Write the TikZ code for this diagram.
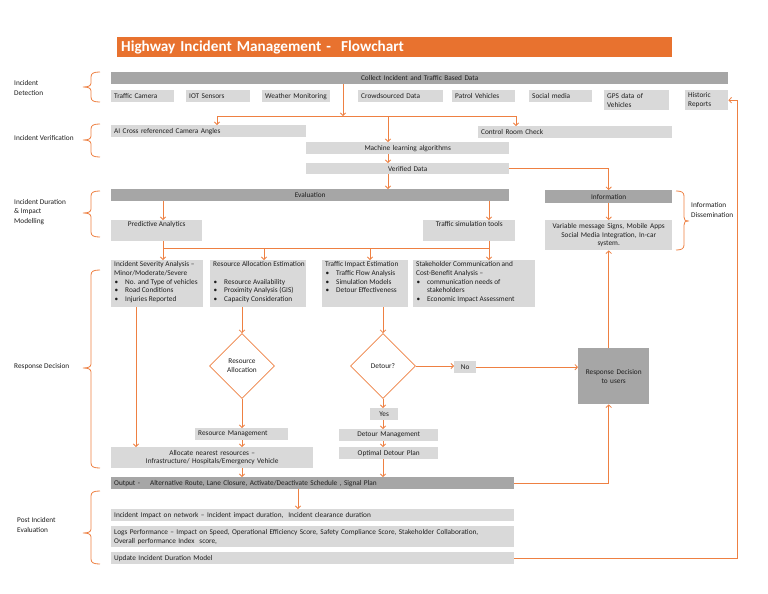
\documentclass[tikz,border=0pt]{standalone}
\usepackage{fontspec}
\setmainfont{Carlito}
\usetikzlibrary{arrows.meta,shapes.geometric,calc}
\definecolor{ttl}{RGB}{232,114,47}
\definecolor{orln}{RGB}{238,128,66}
\definecolor{lg}{RGB}{217,217,217}
\definecolor{dg}{RGB}{166,166,166}
\definecolor{tx}{RGB}{30,30,30}
\newcommand{\fs}{\fontsize{7.3}{8.7}\selectfont\hyphenpenalty=10000\exhyphenpenalty=10000}
\newcommand{\bul}[1]{\mbox{\makebox[11pt][l]{\hspace{0.5pt}\textbullet}#1}}
\newcommand{\BOX}[8]{%
 \pgfmathsetmacro\bw{#4-#2-6}\pgfmathsetmacro\bh{#5-#3}%
 \node[fill=#7, anchor=north west, inner xsep=3pt, inner ysep=0pt, minimum height=\bh pt, text width=\bw pt, align=#6, font=\fs, text=tx] (#1) at (#2,#3) {#8};}
\newcommand{\TBOX}[8]{%
 \pgfmathsetmacro\bw{#4-#2-6}\pgfmathsetmacro\bh{#5-#3}%
 \node[fill=#7, anchor=north west, inner xsep=3pt, inner ysep=0pt, font=\fs, text=tx] (#1) at (#2,#3) {\parbox[b][\bh pt][t]{\bw pt}{#6\hfuzz=20pt\rule{0pt}{6.5pt}#8}};}
\newcommand{\LB}[3]{\draw[brc] (100,#1) .. controls (94,#1) and (91,#1+1) .. (91,#1+5) -- (91,#3-4) .. controls (91,#3-1) and (88,#3) .. (83,#3) .. controls (88,#3) and (91,#3+1) .. (91,#3+4) -- (91,#2-5) .. controls (91,#2-1) and (94,#2) .. (100,#2);}
\tikzset{
 conn/.style={draw=orln, line width=0.8pt},
 arr/.style={draw=orln, line width=0.8pt, -{Straight Barb[length=2.6pt,width=5.5pt]}},
 brc/.style={draw=orln, line width=0.8pt},
 dia/.style={diamond, draw=orln, line width=0.8pt, fill=white, minimum width=65pt, minimum height=65pt, inner sep=0pt, align=center, font=\fs, text=tx},
 lbl/.style={anchor=west, align=left, inner sep=0pt, font=\fontsize{7.3}{9.5}\selectfont, text=tx}
}
\begin{document}
\begin{tikzpicture}[x=1pt,y=-1pt]
\useasboundingbox (0,0) rectangle (768,594);
\fill[white] (0,0) rectangle (768,594);
% title
\node[fill=ttl, anchor=north west, minimum height=20pt, text width=547pt, inner xsep=4pt, inner ysep=0pt, align=left, text=white, font=\bfseries\fontsize{15.2}{17}\selectfont] (title) at (117,37) {Highway Incident Management -\ \ Flowchart};
% detection
\BOX{collect}{111}{72}{728}{84}{center}{dg}{Collect Incident and Traffic Based Data}
\BOX{tc}{111}{90}{174}{102}{left}{lg}{Traffic Camera}
\BOX{iot}{186}{90}{250}{102}{left}{lg}{IOT Sensors}
\BOX{wm}{262}{90}{330}{102}{left}{lg}{\mbox{Weather Monitoring}}
\BOX{cs}{358}{90}{443}{102}{left}{lg}{Crowdsourced Data}
\BOX{pv}{452}{90}{515}{102}{left}{lg}{Patrol Vehicles}
\BOX{sm}{529}{90}{592}{102}{left}{lg}{Social media}
\BOX{gps}{604}{90}{669}{110}{left}{lg}{GPS data of\\Vehicles}
\BOX{hist}{685}{90}{728}{110}{left}{lg}{Historic\\Reports}
% verification
\BOX{ai}{111}{125}{306}{137}{left}{lg}{AI Cross referenced Camera Angles}
\BOX{crc}{478}{126}{672}{138}{left}{lg}{Control Room Check}
\BOX{ml}{306}{142}{509}{154}{center}{lg}{Machine learning algorithms}
\BOX{vd}{306}{163}{509}{174}{center}{lg}{Verified Data}
% modelling
\BOX{eval}{111}{189}{509}{201}{center}{dg}{Evaluation}
\BOX{info}{545}{190}{672}{203}{center}{dg}{Information}
\BOX{vms}{545}{220}{672}{250}{center}{lg}{Variable message Signs, Mobile Apps\\Social Media Integration, In-car\\system.}
\TBOX{pa}{111}{220}{202}{241}{\centering}{lg}{Predictive Analytics}
\TBOX{ts}{423}{220}{515}{241}{\centering}{lg}{Traffic simulation tools}
% response
\TBOX{isa}{111}{260}{203}{307}{\raggedright}{lg}{\mbox{Incident Severity Analysis –}\\Minor/Moderate/Severe\\\bul{No. and Type of vehicles}\\\bul{Road Conditions}\\\bul{Injuries Reported}}
\TBOX{rae}{210}{260}{306}{307}{\raggedright}{lg}{\mbox{Resource Allocation Estimation}\\[8.7pt]\bul{Resource Availability}\\\bul{Proximity Analysis (GIS)}\\\bul{Capacity Consideration}}
\TBOX{tie}{322}{260}{408}{307}{\raggedright}{lg}{\mbox{Traffic Impact Estimation}\\\bul{Traffic Flow Analysis}\\\bul{Simulation Models}\\\bul{Detour Effectiveness}}
\TBOX{sca}{413}{260}{535}{307}{\raggedright}{lg}{\mbox{Stakeholder Communication and}\\Cost-Benefit Analysis –\\\bul{communication needs of}\\\hspace*{11pt}stakeholders\\\bul{Economic Impact Assessment}}
\node[dia] (ra) at (242,366) {Resource\\Allocation};
\node[dia] (det) at (383,366) {Detour?};
\BOX{rm}{195}{428}{288}{440}{left}{lg}{Resource Management}
\BOX{alloc}{111}{447}{313}{468}{center}{lg}{Allocate nearest resources –\\Infrastructure/ Hospitals/Emergency Vehicle}
\BOX{yes}{370}{408}{398}{420}{center}{lg}{Yes}
\BOX{dm}{339}{429}{438}{441}{center}{lg}{Detour Management}
\BOX{odp}{339}{447}{438}{459}{center}{lg}{Optimal Detour Plan}
\BOX{no}{454}{361}{476}{373}{center}{lg}{No}
\BOX{rd}{578}{348}{649}{404}{center}{dg}{Response Decision\\to users}
% output / post
\BOX{out}{111}{477}{514}{489}{left}{dg}{Output -\hspace{10pt}Alternative Route, Lane Closure, Activate/Deactivate Schedule , Signal Plan}
\BOX{iin}{111}{509}{514}{521}{left}{lg}{Incident Impact on network – Incident impact duration,\ \ Incident clearance duration}
\BOX{logs}{111}{526}{514}{547}{left}{lg}{Logs Performance – Impact on Speed, Operational Efficiency Score, Safety Compliance Score, Stakeholder Collaboration,\\Overall performance Index\ \ score,}
\BOX{upd}{111}{552}{514}{564}{left}{lg}{Update Incident Duration Model}
% labels
\node[lbl] (l1) at (14,88) {Incident\\Detection};
\node[lbl] (l2) at (14,138) {Incident Verification};
\node[lbl] (l3) at (14,212) {Incident Duration\\\& Impact\\Modelling};
\node[lbl] (l4) at (14,367) {Response Decision};
\node[lbl] (l5) at (17,525) {Post Incident\\Evaluation};
\node[lbl] (l6) at (691,210) {Information\\Dissemination};
% braces
\LB{72}{102}{87}
\LB{124}{157}{140}
\LB{191}{237}{213}
\LB{270}{468}{368}
\LB{491}{564}{533}
\draw[brc] (676,191) .. controls (681,191) and (684,192) .. (684,196) -- (684,217) .. controls (684,220) and (685,221) .. (689,221) .. controls (685,221) and (684,222) .. (684,225) -- (684,245) .. controls (684,249) and (681,250) .. (676,250);
% connectors
\coordinate (j0) at (343,116);
\coordinate (jl) at (217,116);
\coordinate (jm) at (388,116);
\coordinate (jr) at (516,116);
\draw[arr] (collect.south -| j0) -- (j0);
\draw[conn] (jl) -- (jr);
\draw[arr] (jl) -- (ai.north -| jl);
\draw[arr] (jr) -- (crc.north -| jr);
\draw[arr] (jm) -- (ml.north -| jm);
\draw[arr] (ml.south -| jm) -- (vd.north -| jm);
\draw[arr] (vd.south -| jm) -- (eval.north -| jm);
\draw[arr] (vd.east) -- (vd.east -| info.north) -- (info.north);
\draw[arr] (info.south) -- (vms.north);
\coordinate (b1) at (163,248);
\coordinate (b2) at (264,248);
\coordinate (b3) at (370,248);
\coordinate (b4) at (489,248);
\draw[arr] (eval.south -| b1) -- (pa.north -| b1);
\draw[arr] (eval.south -| b4) -- (ts.north -| b4);
\draw[conn] (pa.south -| b1) -- (b1) -- (b4) -- (ts.south -| b4);
\draw[arr] (b1) -- (isa.north -| b1);
\draw[arr] (b2) -- (rae.north -| b2);
\draw[arr] (b3) -- (tie.north -| b3);
\draw[arr] (b4) -- (sca.north -| b4);
\coordinate (c1) at (136,0);
\draw[arr] (isa.south -| c1) -- (alloc.north -| c1);
\draw[arr] (rae.south -| ra.north) -- (ra.north);
\draw[arr] (ra.south) -- (rm.north -| ra.south);
\draw[arr] (rm.south -| ra.south) -- (alloc.north -| ra.south);
\draw[arr] (alloc.south -| ra.south) -- (out.north -| ra.south);
\draw[arr] (tie.south -| det.north) -- (det.north);
\draw[arr] (det.south) -- (yes.north -| det.south);
\draw[arr] (yes.south -| det.south) -- (dm.north -| det.south);
\draw[arr] (dm.south -| det.south) -- (odp.north -| det.south);
\draw[arr] (odp.south -| det.south) -- (out.north -| det.south);
\draw[arr] (det.east) -- (no.west |- det.east);
\draw[arr] (no.east) -- (rd.west |- no.east);
\draw[arr] (rd.north -| vms.south) -- (vms.south);
\draw[arr] (out.east) -- (out.east -| vms.south) -- (rd.south -| vms.south);
\coordinate (c2) at (298,0);
\draw[arr] (out.south -| c2) -- (iin.north -| c2);
\coordinate (c3) at (737,0);
\draw[arr] (upd.east) -- (upd.east -| c3) -- (hist.east -| c3) -- (hist.east);
\end{tikzpicture}
\end{document}
